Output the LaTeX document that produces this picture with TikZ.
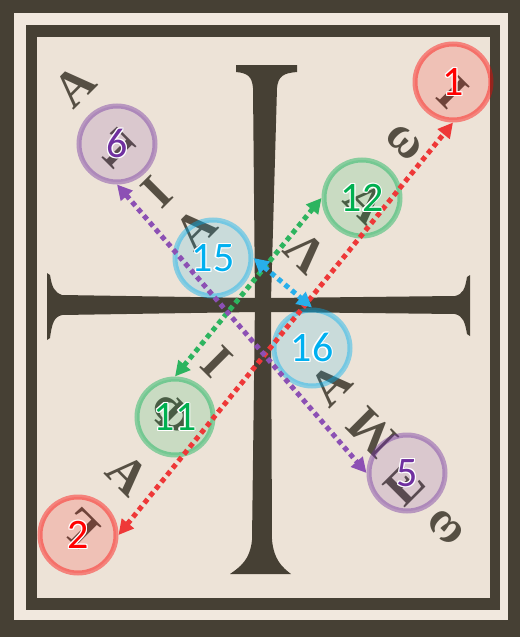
\documentclass[tikz,border=0pt]{standalone}
\usepackage{fontspec}
\usepackage{graphicx}
\usetikzlibrary{arrows.meta}
\newfontfamily\numfont{Carlito}
\newfontfamily\grkfont{Liberation Serif}
\definecolor{paper}{RGB}{237,227,215}
\definecolor{strip}{RGB}{241,232,222}
\definecolor{ink}{RGB}{70,64,52}
\definecolor{cred}{HTML}{FF0000}
\definecolor{cpur}{HTML}{7030A0}
\definecolor{cgrn}{HTML}{00B050}
\definecolor{cblu}{HTML}{00B0F0}
\definecolor{dred}{RGB}{238,56,56}
\definecolor{dgrn}{RGB}{45,180,95}
\definecolor{dpur}{RGB}{140,80,180}
\definecolor{dblu}{RGB}{40,175,235}
\tikzset{
  ring/.style={circle, minimum size=76pt, inner sep=0pt, line width=5pt,
    draw=#1, fill=#1, draw opacity=0.42, fill opacity=0.15},
  conn/.style={draw=#1, line width=5pt, dash pattern=on 5pt off 4pt, <->},
  numtext/.style={font=\numfont\fontsize{42}{42}\selectfont, inner sep=0pt,
    text height=26.5pt, text depth=0pt, anchor=center},
  glyph/.style={font=\grkfont\bfseries\fontsize{50}{50}\selectfont, text=ink,
    inner sep=0pt, text opacity=0.9, anchor=center},
  >={Triangle[length=15pt,width=15pt]}
}
\newcommand\numlabel[4]{%
  \foreach \dx/\dy in {1.2/0,-1.2/0,0/1.2,0/-1.2,0.85/0.85,0.85/-0.85,-0.85/0.85,-0.85/-0.85}
    {\node[numtext,text=white,xshift=\dx pt,yshift=\dy pt] at (#2) {#4};}
  \node[numtext,text=#3] (#1) at (#2) {#4};
}
\begin{document}
\begin{tikzpicture}[x=1pt,y=-1pt]
\useasboundingbox (0,0) rectangle (520,637);
% frame
\fill[ink] (0,0) rectangle (520,637);
\fill[strip] (14,13) rectangle (508,620);
\fill[ink] (26,25) rectangle (500,610);
\fill[paper] (37,37) rectangle (490,598);
% cross: vertical
\fill[ink] (236,65) -- (297,65) -- (297,72) .. controls (284,73) and (278,76) .. (277,88)
  -- (271,300) -- (272,540) .. controls (274,560) and (282,567) .. (291,574)
  -- (230,574) .. controls (240,567) and (250,560) .. (252,540)
  -- (255,300) -- (253,88) .. controls (252,76) and (247,73) .. (236,72) -- cycle;
% cross: horizontal
\fill[ink] (47,273) -- (50,275) .. controls (52,287) and (54,292) .. (62,295)
  -- (255,298) -- (271,298) -- (455,296) .. controls (463,294) and (465,289) .. (467,277)
  -- (470,275) -- (470,336) -- (467,334) .. controls (465,322) and (463,316) .. (455,314)
  -- (271,312) -- (255,312) -- (62,315) .. controls (54,317) and (52,323) .. (50,338)
  -- (47,340) -- cycle;
% letters, diagonal top-left to bottom-right
\node[glyph,rotate=45] (g1) at (75,86) {Α};
\node[glyph,rotate=-45] (g2) at (115,148) {\reflectbox{Γ}};
\node[glyph,rotate=45] (g3) at (157,192) {Ι};
\node[glyph,rotate=45] (g4) at (196,229) {Α};
\node[glyph,rotate=45] (g5) at (331,385) {Α};
\node[glyph,rotate=135] (g6) at (372,432) {Μ};
\node[glyph,rotate=45] (g7) at (405,485) {Ε};
\node[glyph,rotate=135] (g8) at (445,528) {ω};
% letters, diagonal bottom-left to top-right
\node[glyph,rotate=-45] (h1) at (80,528) {\reflectbox{Γ}};
\node[glyph,rotate=-45] (h2) at (128,475) {Α};
\node[glyph,rotate=-45] (h3) at (172,415) {Φ};
\node[glyph,rotate=-45] (h4) at (217,362) {Ι};
\node[glyph,rotate=-45] (h5) at (306,252) {Λ};
\node[glyph,rotate=-45] (h6) at (366,203) {Α};
\node[glyph,rotate=-45] (h7) at (405,142) {ω};
\node[glyph,rotate=-45] (h8) at (453,93) {Ι};
% rings
\node[ring=cred] (c1) at (453,82) {};
\node[ring=cred] (c2) at (78,535) {};
\node[ring=cpur] (c6) at (117,144) {};
\node[ring=cpur] (c5) at (407,473) {};
\node[ring=cgrn] (c12) at (362,198) {};
\node[ring=cgrn] (c11) at (175,417) {};
\node[ring=cblu] (c15) at (213,258) {};
\node[ring=cblu] (c16) at (312,348) {};
% connectors
\draw[conn=dred] (c2.east) -- (c1.south);
\draw[conn=dgrn] (c11.north) -- (c12.west);
\draw[conn=dpur] (c6.south) -- (c5.west);
\draw[conn=dblu] (c15.east) -- (c16.north);
% numbers
\numlabel{n1}{c1}{cred}{1}
\numlabel{n2}{c2}{cred}{2}
\numlabel{n6}{c6}{cpur}{6}
\numlabel{n5}{c5}{cpur}{5}
\numlabel{n12}{c12}{cgrn}{12}
\numlabel{n11}{c11}{cgrn}{11}
\numlabel{n15}{c15}{cblu}{15}
\numlabel{n16}{c16}{cblu}{16}
\end{tikzpicture}
\end{document}
